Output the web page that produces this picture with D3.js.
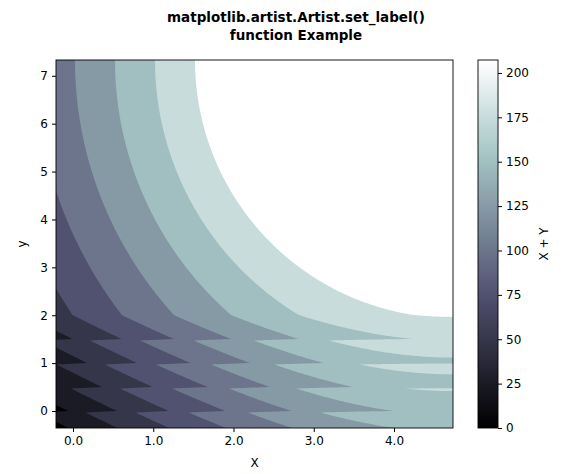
<!DOCTYPE html>
<html><head><meta charset="utf-8">
<script src="https://cdn.jsdelivr.net/npm/d3@7"></script>
<style>body{margin:0;background:#fff}text{font-family:"DejaVu Sans",sans-serif}</style>
</head><body><svg id="c" width="579" height="474"></svg>
<script>
// contour levels and ticks
const levels = [0, 25, 50, 75, 100, 125, 150, 175, 200];
const xTicks = [0, 1, 2, 3, 4];
const yTicks = [0, 1, 2, 3, 4, 5, 6, 7];
const cbTicks = [0, 25, 50, 75, 100, 125, 150, 175, 200];
// field: bands ring the top-right corner, 25 units per ~40px; strips below y=2
const ringValue = 200, ringRadius = 258, ringRate = 0.625;
const stripEdges = [2, 1.5, 1, 0.5, 0, -0.5];
const stripDrop = 15, stripSlope = 50;
const vmax = 207.3;

const svg = d3.select("#c");
const L = 56, R = 453, T = 60, B = 428;
const x = d3.scaleLinear().domain([-0.212, 4.735]).range([L, R]);
const y = d3.scaleLinear().domain([-0.355, 7.33]).range([B, T]);

function bone(t) {
  t = Math.max(0, Math.min(1, t));
  const lerp = (pts) => { for (let i = 1; i < pts.length; i++) if (t <= pts[i][0]) { const [a, va] = pts[i-1], [b, vb] = pts[i]; return va + (vb - va) * (t - a) / (b - a); } return 1; };
  const r = lerp([[0,0],[0.746,0.652],[1,1]]), g = lerp([[0,0],[0.365,0.319],[0.746,0.777],[1,1]]), b = lerp([[0,0],[0.365,0.444],[1,1]]);
  return d3.rgb(r*255, g*255, b*255);
}

function ring(px, py) {
  const d = Math.hypot(R - px, py - T);
  return ringValue - ringRate * (d - ringRadius);
}
function field(px, py) {
  const yv = y.invert(py);
  if (yv >= stripEdges[0]) return ring(px, py);
  const yt = stripEdges.find((e, i) => yv >= (stripEdges[i+1] ?? -1) && yv < e) ?? 0;
  return ring(px, y(stripEdges[0])) - (stripEdges[0] - yt) * stripDrop - (yt - yv) * stripSlope;
}

const step = 1.5;
const n = Math.ceil((R - L) / step) + 1, m = Math.ceil((B - T) / step) + 1;
const vals = new Array(n * m);
for (let j = 0; j < m; j++) for (let i = 0; i < n; i++) vals[j*n+i] = field(L + i*step, T + j*step);
const contours = d3.contours().size([n, m]).thresholds(levels)(vals);

svg.append("clipPath").attr("id", "clip").append("rect").attr("x", L).attr("y", T).attr("width", R-L).attr("height", B-T);
const path = d3.geoPath(d3.geoIdentity().scale(step).translate([L - step/2, T - step/2]));
svg.append("g").attr("clip-path", "url(#clip)").selectAll("path").data(contours).join("path")
  .attr("d", path).attr("fill", d => d.value >= 200 ? "#fff" : bone(d.value / vmax));

svg.append("rect").attr("x", L).attr("y", T).attr("width", R-L).attr("height", B-T).attr("fill", "none").attr("stroke", "#000").attr("stroke-width", 0.9);

const ax = svg.append("g").attr("transform", `translate(0,${B})`).call(d3.axisBottom(x).tickValues(xTicks).tickSize(4).tickPadding(4));
const ay = svg.append("g").attr("transform", `translate(${L},0)`).call(d3.axisLeft(y).tickValues(yTicks).tickSize(4).tickPadding(4));
[ax, ay].forEach(a => { a.select(".domain").remove(); a.selectAll("text").attr("font-size", 12).attr("fill", "#000"); });

svg.append("text").attr("x", (L+R)/2).attr("y", 467).attr("text-anchor", "middle").attr("font-size", 12).text("X");
svg.append("text").attr("transform", `translate(26,${(T+B)/2}) rotate(-90)`).attr("text-anchor", "middle").attr("font-size", 12).text("y");
svg.append("text").attr("x", 296).attr("y", 22).attr("text-anchor", "middle").attr("font-size", 13.5).attr("font-weight", "bold").text("matplotlib.artist.Artist.set_label()");
svg.append("text").attr("x", 296).attr("y", 40).attr("text-anchor", "middle").attr("font-size", 13.5).attr("font-weight", "bold").text("function Example");

// colorbar
const cL = 478, cW = 20;
const cy = d3.scaleLinear().domain([0, vmax]).range([B, T]);
const grad = svg.append("defs").append("linearGradient").attr("id", "g").attr("x1", 0).attr("x2", 0).attr("y1", 1).attr("y2", 0);
d3.range(0, 1.0001, 0.05).forEach(t => grad.append("stop").attr("offset", t).attr("stop-color", bone(t)));
svg.append("rect").attr("x", cL).attr("y", T).attr("width", cW).attr("height", B-T).attr("fill", "url(#g)").attr("stroke", "#000").attr("stroke-width", 0.9);
const ac = svg.append("g").attr("transform", `translate(${cL+cW},0)`).call(d3.axisRight(cy).tickValues(cbTicks).tickSize(4).tickPadding(4));
ac.select(".domain").remove(); ac.selectAll("text").attr("font-size", 12).attr("fill", "#000");
svg.append("text").attr("transform", `translate(548,${(T+B)/2}) rotate(-90)`).attr("text-anchor", "middle").attr("font-size", 12).text("X + Y");
</script></body></html>
